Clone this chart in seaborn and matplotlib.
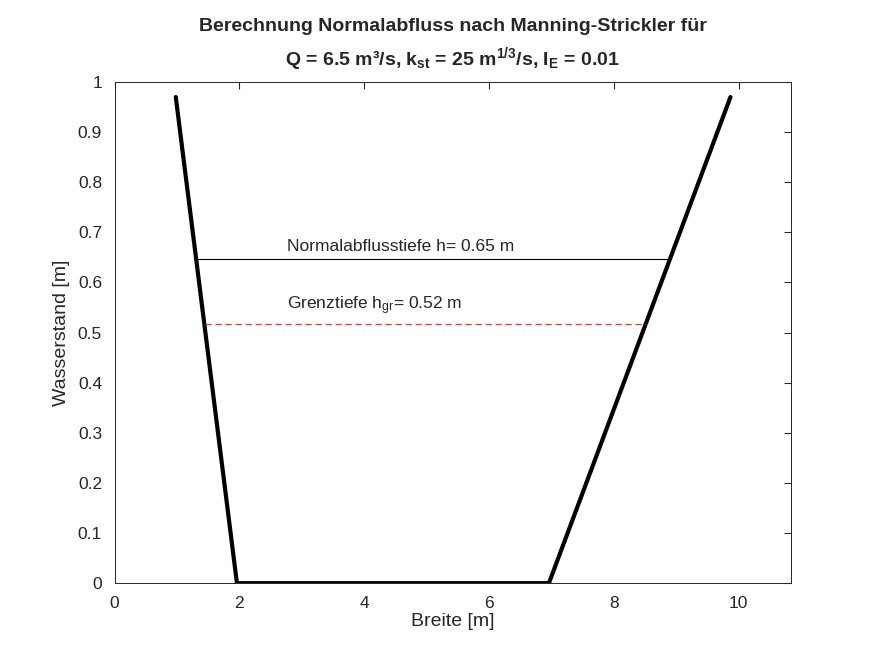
import matplotlib
matplotlib.use("Agg")
import matplotlib.pyplot as plt
import seaborn as sns
import pandas as pd

# Data
channel_x = [0.98, 1.96, 6.96, 9.87]
channel_y = [0.97, 0.0, 0.0, 0.97]
normal_x = [1.32, 8.91]
normal_h = 0.647
crit_x = [1.45, 8.52]
crit_h = 0.517
xticks = [0, 2, 4, 6, 8, 10]
yticks = [0, 0.1, 0.2, 0.3, 0.4, 0.5, 0.6, 0.7, 0.8, 0.9, 1]

sns.set_style("white")
plt.rcParams['font.family'] = ['Liberation Sans', 'DejaVu Sans']
plt.rcParams['mathtext.default'] = 'regular'

fig = plt.figure(figsize=(8.75, 6.56), dpi=100)
ax = fig.add_axes([0.131, 0.111, 0.773, 0.764])

df = pd.DataFrame({"x": channel_x, "y": channel_y})
sns.lineplot(data=df, x="x", y="y", sort=False, color="black", linewidth=3, ax=ax)
sns.lineplot(x=normal_x, y=[normal_h]*2, color="black", linewidth=0.8, ax=ax)
sns.lineplot(x=crit_x, y=[crit_h]*2, color="#ff3030", linewidth=0.9, linestyle=(0, (5, 3)), ax=ax)

ax.text(2.77, normal_h + 0.01, "Normalabflusstiefe h= 0.65 m", fontsize=12.5, va="bottom")
ax.text(2.77, crit_h + 0.015, "Grenztiefe h$_{gr}$= 0.52 m", fontsize=12.5, va="bottom")

ax.set_xlim(0, 10.84)
ax.set_ylim(0, 1)
ax.set_xticks(xticks)
ax.set_yticks(yticks)
ax.set_yticklabels([f"{v:g}" for v in yticks])
ax.tick_params(direction="in", labelsize=12.5, colors="#262626", length=5, top=True, right=True, pad=9)
for s in ax.spines.values():
    s.set_color("#262626"); s.set_linewidth(0.7)
ax.set_xlabel("Breite [m]", fontsize=14, color="#262626", labelpad=2)
ax.set_ylabel("Wasserstand [m]", fontsize=14, color="#262626", labelpad=6)
ax.set_title("Berechnung Normalabfluss nach Manning-Strickler für\n"
             "Q = 6.5 m³/s, k$_{st}$ = 25 m$^{1/3}$/s, I$_{E}$ = 0.01",
             fontsize=14, fontweight="bold", linespacing=1.5, pad=12)
fig.savefig("out.png", dpi=100)
